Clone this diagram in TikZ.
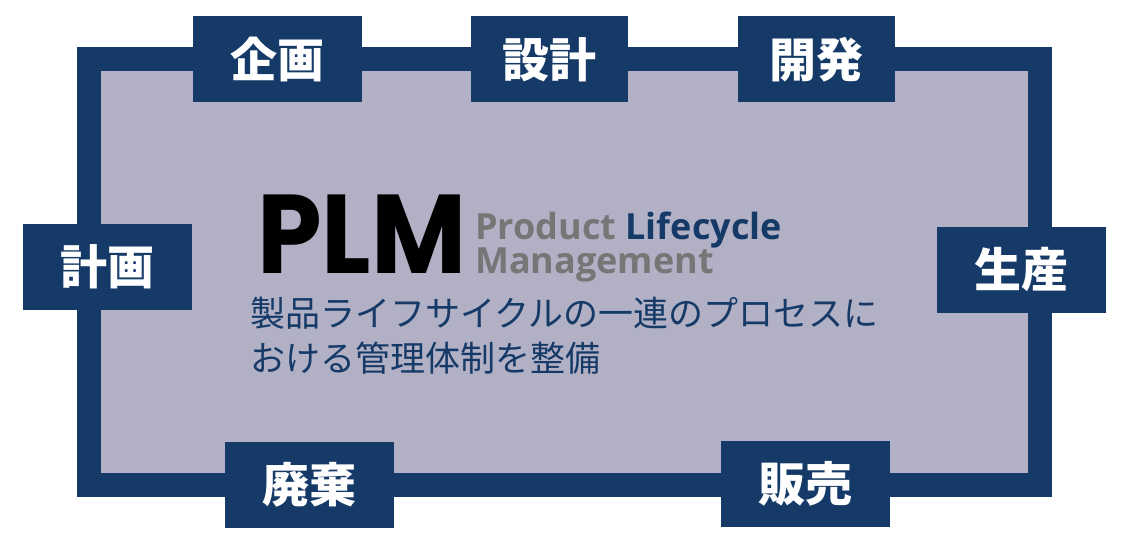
\documentclass[tikz,border=0pt]{standalone}
\usepackage{fontspec}
\usepackage{graphicx}
\setmainfont{Open Sans}
\newfontfamily\jpfont{Noto Sans CJK JP}
\newfontfamily\plmfont{Poppins}
\definecolor{navy}{RGB}{22,58,104}
\definecolor{lav}{RGB}{178,176,197}
\definecolor{engray}{RGB}{118,118,118}
\begin{document}
\begin{tikzpicture}[x=1pt, y=-1pt,
  stage/.style={fill=navy, text=white, minimum width=169pt, minimum height=86pt, inner sep=0pt,
    font=\jpfont\bfseries\fontsize{47}{47}\selectfont},
  caption/.style={anchor=base west, inner sep=0pt}]
  \useasboundingbox (0,0) rectangle (1125,548);

  % Frame
  \node[draw=navy, line width=24pt, fill=lav, minimum width=951pt, minimum height=426pt, inner sep=0pt] (frame) at (564.5,272) {};

  % Stages
  \node[stage] (kikaku) at (277.5,59.5) {企画};
  \node[stage, minimum width=157pt] (sekkei) at (549.5,59.5) {設計};
  \node[stage, minimum width=157pt] (kaihatsu) at (816.5,59.5) {開発};
  \node[stage] (keikaku) at (107.5,267) {計画};
  \node[stage] (seisan) at (1021.5,270) {生産};
  \node[stage] (haiki) at (309,485) {廃棄};
  \node[stage] (hanbai) at (805.5,484) {販売};

  % Center text
  \node[caption, text depth=0pt, font=\plmfont\bfseries\fontsize{112}{112}\selectfont] (plm) at (257,274) {\scalebox{0.926}[1]{PLM}};
  \node[caption, text=engray, font=\bfseries\fontsize{36}{36}\selectfont] (prod) at (475,240) {Product \textcolor{navy}{Lifecycle}};
  \node[caption, text=engray, font=\bfseries\fontsize{36}{36}\selectfont] (mgmt) at (475,273) {Management};
  \node[caption, text=navy, font=\jpfont\fontsize{35}{35}\selectfont] (desc1) at (250,326) {製品ライフサイクルの一連のプロセスに};
  \node[caption, text=navy, font=\jpfont\fontsize{35}{35}\selectfont] (desc2) at (250,371) {おける管理体制を整備};
\end{tikzpicture}
\end{document}
